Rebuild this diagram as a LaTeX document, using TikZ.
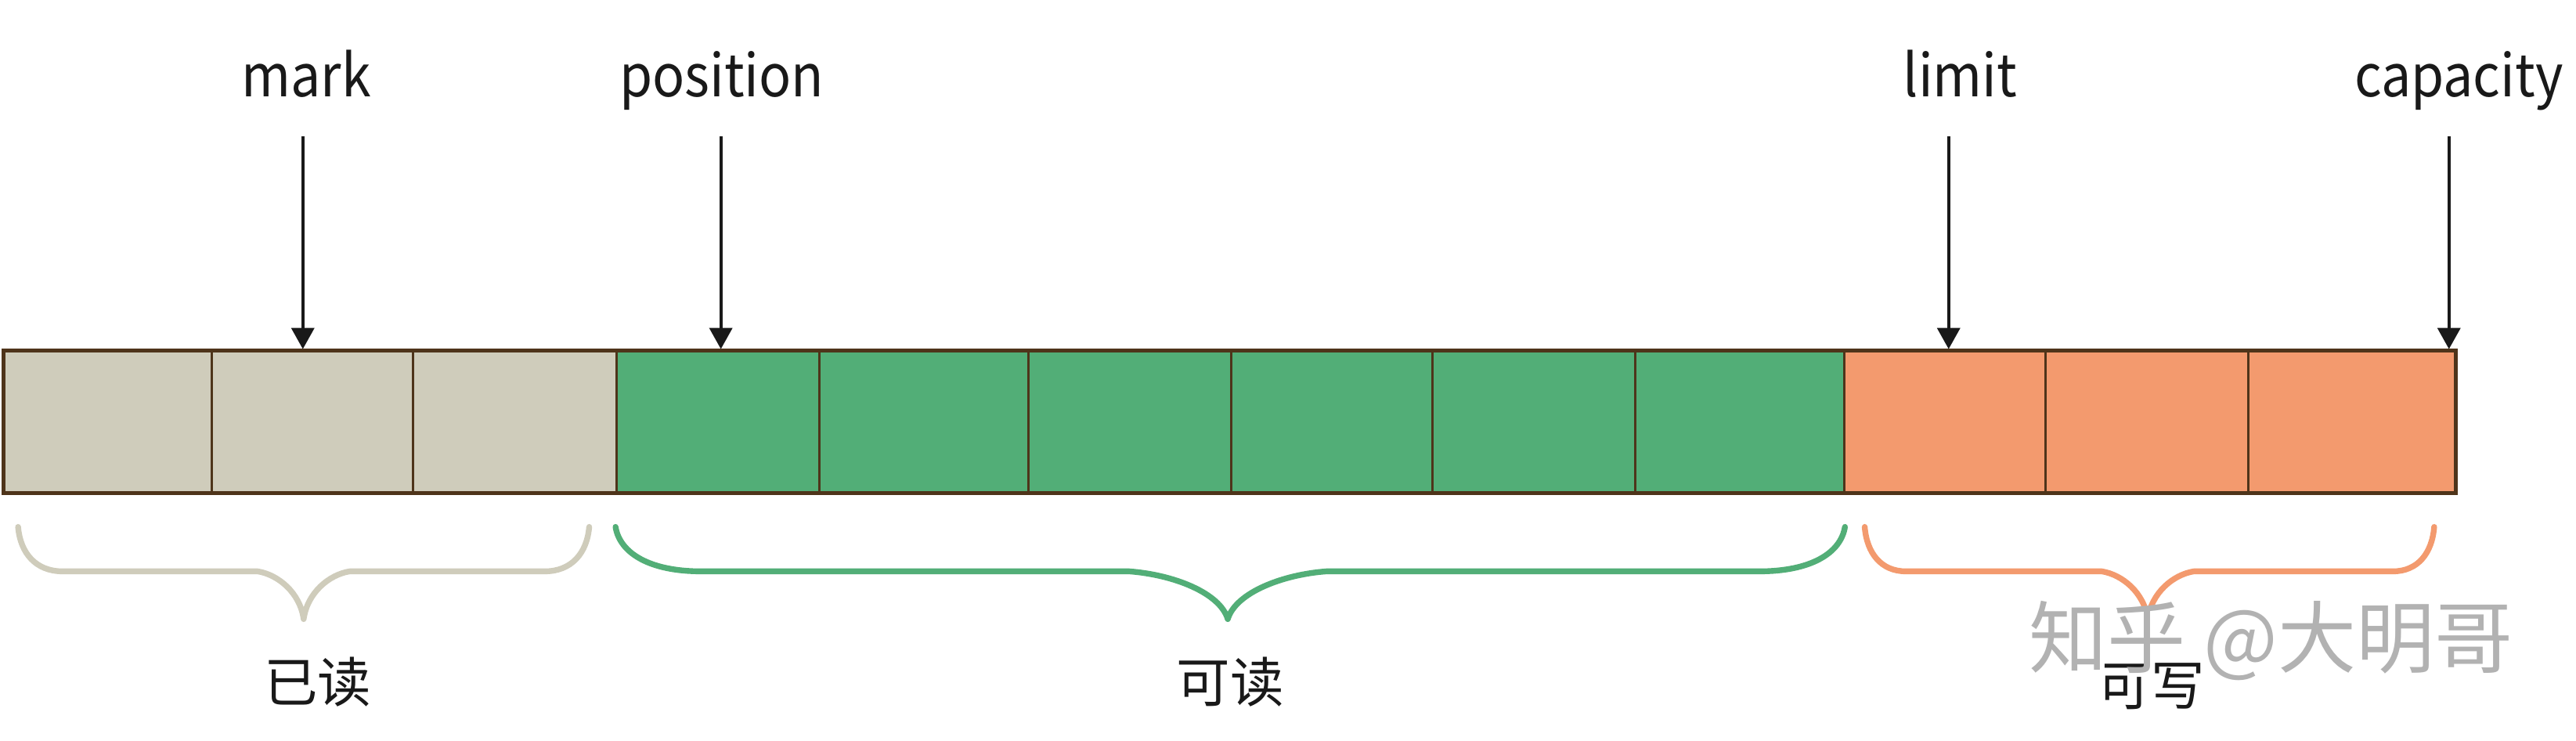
\documentclass[tikz,border=0pt]{standalone}
\usepackage{fontspec}
\setmainfont{Noto Sans CJK SC}
\newfontfamily\narrowlatin[FakeStretch=0.91]{Noto Sans CJK SC}
\usetikzlibrary{arrows.meta}
\definecolor{readc}{RGB}{207,204,187}
\definecolor{greenc}{RGB}{82,174,119}
\definecolor{orangec}{RGB}{243,154,110}
\definecolor{edgec}{RGB}{78,52,26}
\definecolor{wmark}{RGB}{178,178,178}
\tikzset{
  cellline/.style={draw=edgec, line width=0.9pt},
  outline/.style={draw=edgec, line width=1.4pt},
  ptr/.style={draw=black!90, line width=1.1pt, -{Triangle[length=0.27cm,width=0.29cm]}},
  lab/.style={font=\narrowlatin\fontsize{21.3}{24}\selectfont, inner sep=0pt, anchor=base, text=black!90},
  cjklab/.style={font=\fontsize{19.5}{22}\selectfont, inner sep=0pt, text=black!90},
  wm/.style={font=\fontsize{28.5}{30}\selectfont, inner sep=0pt},
  bracestyle/.style={line width=2.1pt, line cap=round, line join=round},
}
\newcommand\mybrace[6]{%
  \draw[bracestyle,#6] (#1,320) .. controls (#1+0.05*#4,336) and (#1+0.4*#4,347) .. (#1+#4,347)
    -- (#3-#5,347) .. controls (#3-0.55*#5,349) and (#3-0.08*#5,360) .. (#3,376)
    .. controls (#3+0.08*#5,360) and (#3+0.55*#5,349) .. (#3+#5,347)
    -- (#2-#4,347) .. controls (#2-0.4*#4,347) and (#2-0.05*#4,336) .. (#2,320);
}
\begin{document}
\begin{tikzpicture}[x=0.02102cm, y=-0.02102cm]
\useasboundingbox[fill=white] (0,0) rectangle (1565.2,450);

% cells
\foreach \a/\b/\c in {2/128.5/readc, 128.5/251/readc, 251/374.5/readc,
  374.5/498/greenc, 498/625/greenc, 625/748/greenc, 748/870.5/greenc, 870.5/993.5/greenc, 993.5/1120.5/greenc,
  1120.5/1243/orangec, 1243/1366/orangec, 1366/1492/orangec}
  \fill[\c] (\a,212.7) rectangle (\b,299.3);
\foreach \x in {128.5,251,374.5,498,625,748,870.5,993.5,1120.5,1243,1366}
  \draw[cellline] (\x,212.7) -- (\x,299.3);
\draw[outline] (2,212.7) rectangle (1492,299.3);

% pointer labels
\node[lab] (mark) at (186,58.7) {mark};
\node[lab] (pos) at (438.5,58.7) {position};
\node[lab] (lim) at (1191,58.7) {limit};
\node[lab] (cap) at (1494,58.7) {capacity};

\coordinate (markS) at (184,83);   \coordinate (markE) at (184,212);
\coordinate (posS) at (438,83);    \coordinate (posE) at (438,212);
\coordinate (limS) at (1184,83);   \coordinate (limE) at (1184,212);
\coordinate (capS) at (1488,83);   \coordinate (capE) at (1488,212);
\draw[ptr] (markS) -- (markE);
\draw[ptr] (posS) -- (posE);
\draw[ptr] (limS) -- (limE);
\draw[ptr] (capS) -- (capE);

% braces
\mybrace{11}{358}{184.5}{27}{28}{readc}
\mybrace{374}{1121}{746}{52}{60}{greenc}
\mybrace{1133}{1479}{1305}{25}{28}{orangec}

% region labels
\node[cjklab] (done) at (193,414) {已读};
\node[cjklab] (readable) at (747.5,414) {可读};
\node[cjklab] (writable) at (1307,417) {可写};

% watermark
\node[wm, text=white] (wmshadow) at (1382.5,391.5) {知乎 @大明哥};
\node[wm, text=wmark] (wmtext) at (1380,389) {知乎 @大明哥};
\end{tikzpicture}
\end{document}
